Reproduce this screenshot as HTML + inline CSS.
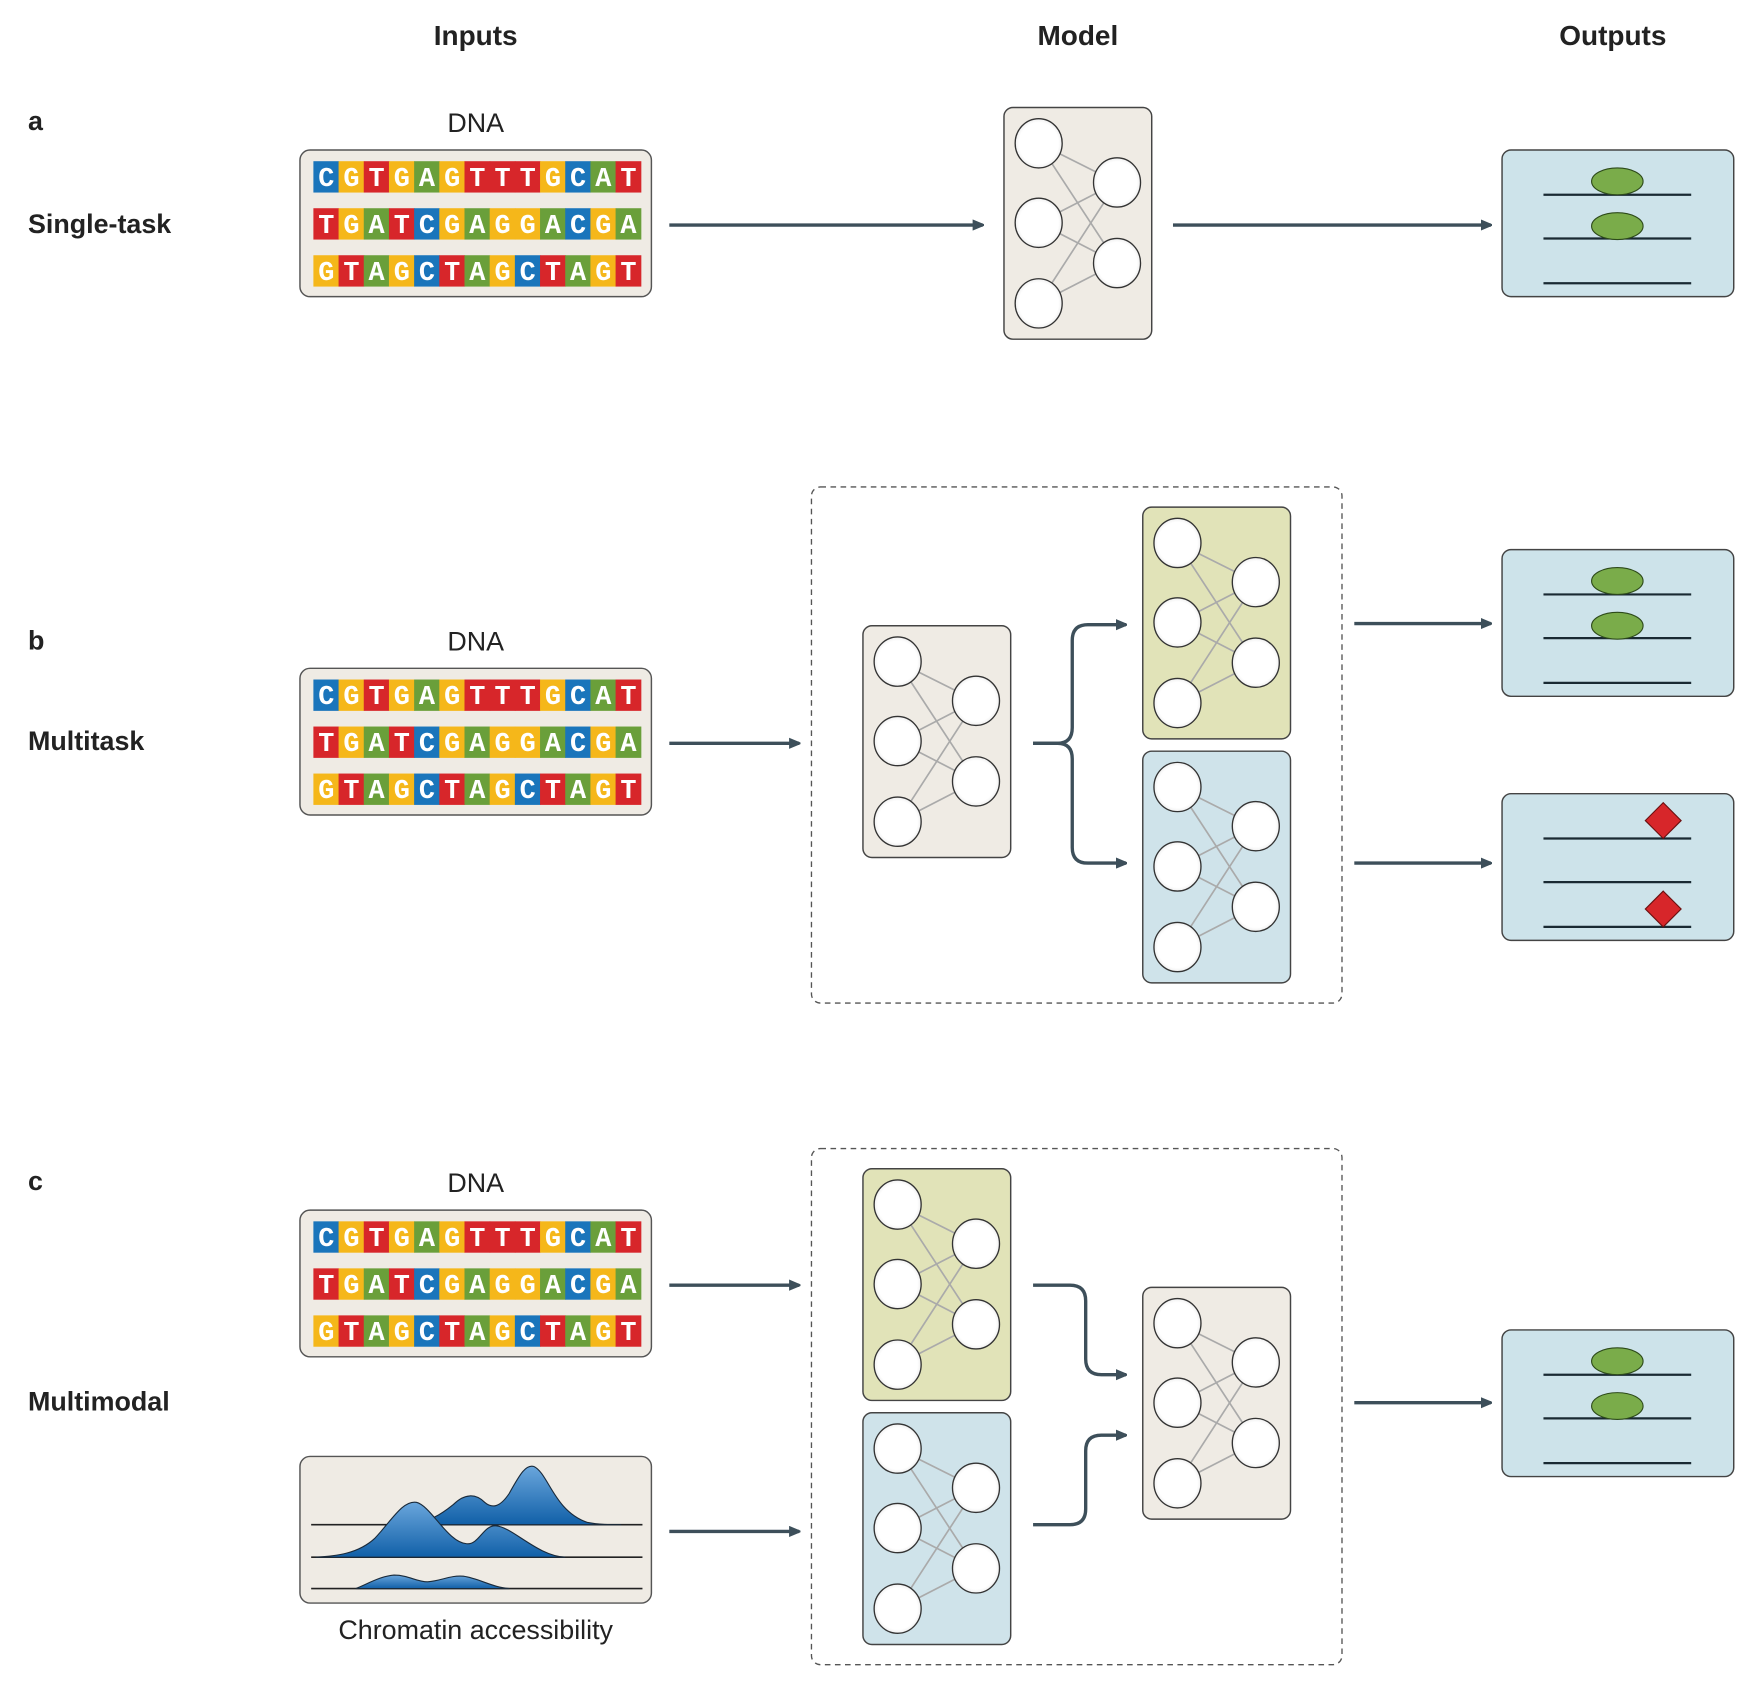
<!DOCTYPE html>
<html><head><meta charset="utf-8"><style>
html,body{margin:0;padding:0;background:#fff;}
svg{display:block;}
text{font-family:"Liberation Sans",sans-serif;}
.h{font-weight:bold;font-size:24px;fill:#222;}
.hh{font-weight:bold;font-size:25px;fill:#222;}
.lab{font-size:24px;fill:#222;}
.m{font-family:"Liberation Mono",monospace;font-size:24px;font-weight:bold;fill:#fff;}
</style></head><body>
<svg width="1755" height="1696" viewBox="0 0 1568 1515" preserveAspectRatio="none" xmlns="http://www.w3.org/2000/svg">
<defs>
<marker id="ar" markerWidth="10" markerHeight="10" refX="9" refY="5" orient="auto" markerUnits="userSpaceOnUse"><path d="M0,0 L12,5 L0,10 Z" fill="#3d4f5a"/></marker>
<linearGradient id="bg" x1="0" y1="0" x2="0" y2="1"><stop offset="0" stop-color="#6aa6dc"/><stop offset="1" stop-color="#1160a8"/></linearGradient>
<radialGradient id="ng" cx="0.5" cy="0.5" r="0.6"><stop offset="0.7" stop-color="#fff"/><stop offset="1" stop-color="#ddd"/></radialGradient>
</defs>
<text class="hh" x="425" y="40" text-anchor="middle">Inputs</text>
<text class="hh" x="963" y="40" text-anchor="middle">Model</text>
<text class="hh" x="1441" y="40" text-anchor="middle">Outputs</text>
<text class="h" x="25" y="116">a</text>
<text class="h" x="25" y="208">Single-task</text>
<text class="h" x="25" y="580">b</text>
<text class="h" x="25" y="670">Multitask</text>
<text class="h" x="25" y="1063">c</text>
<text class="h" x="25" y="1260">Multimodal</text>
<g id="all"></g>
<text class="lab" x="425" y="1464" text-anchor="middle">Chromatin accessibility</text>
<rect x="725" y="435" width="474" height="461" rx="8" fill="none" stroke="#555" stroke-dasharray="5,4" stroke-width="1.2"/>
<rect x="725" y="1026" width="474" height="461" rx="8" fill="none" stroke="#555" stroke-dasharray="5,4" stroke-width="1.2"/>
<g fill="none" stroke="#3d4f5a" stroke-width="3">
<line x1="598" y1="201" x2="878" y2="201" marker-end="url(#ar)"/>
<line x1="1048" y1="201" x2="1332" y2="201" marker-end="url(#ar)"/>
<line x1="598" y1="664" x2="714" y2="664" marker-end="url(#ar)"/>
<path d="M923,664 H945 Q958,664 958,650 V572 Q958,558 972,558 H1006" marker-end="url(#ar)"/>
<path d="M923,664 H945 Q958,664 958,678 V757 Q958,771 972,771 H1006" marker-end="url(#ar)"/>
<line x1="1210" y1="557" x2="1332" y2="557" marker-end="url(#ar)"/>
<line x1="1210" y1="771" x2="1332" y2="771" marker-end="url(#ar)"/>
<line x1="598" y1="1148" x2="714" y2="1148" marker-end="url(#ar)"/>
<line x1="598" y1="1368" x2="714" y2="1368" marker-end="url(#ar)"/>
<path d="M923,1148 H956 Q970,1148 970,1162 V1214 Q970,1228 984,1228 H1006" marker-end="url(#ar)"/>
<path d="M923,1362 H956 Q970,1362 970,1348 V1296 Q970,1282 984,1282 H1006" marker-end="url(#ar)"/>
<line x1="1210" y1="1253" x2="1332" y2="1253" marker-end="url(#ar)"/>
</g>
<rect x="268" y="1301" width="314" height="131" rx="9" fill="#efebe4" stroke="#555" stroke-width="1.3"/>
<g stroke="#222" stroke-width="1.5">
<line x1="278" y1="1362" x2="574" y2="1362"/>
<line x1="278" y1="1391" x2="574" y2="1391"/>
<line x1="278" y1="1419" x2="574" y2="1419"/>
</g>
<g fill="url(#bg)" stroke="#1a2a3a" stroke-width="1">
<path d="M360,1362 C385,1360 395,1352 405,1344 C415,1334 425,1334 433,1342 C440,1348 447,1346 455,1334 C465,1316 470,1308 477,1310 C490,1316 495,1350 525,1360 C535,1362 545,1362 555,1362 Z"/>
<path d="M282,1391 C300,1390 320,1388 335,1374 C350,1358 360,1340 372,1342 C385,1345 400,1378 417,1379 C428,1380 432,1362 443,1363 C458,1364 480,1390 505,1391 Z"/>
<path d="M318,1419 C330,1414 340,1408 352,1407 C365,1407 372,1413 382,1413 C395,1412 402,1407 414,1408 C428,1410 440,1418 455,1419 Z"/>
</g>
</svg>
<script>
const NS="http://www.w3.org/2000/svg";
const g=document.getElementById("all");
function el(t,a,p){const e=document.createElementNS(NS,t);for(const k in a)e.setAttribute(k,a[k]);(p||g).appendChild(e);return e;}
const col={C:"#1a75bb",G:"#f5b71a",T:"#d7262a",A:"#6a9f3a"};
const rows=["CGTGAGTTTGCAT","TGATCGAGGACGA","GTAGCTAGCTAGT"];
function dna(y0){
 const t=el("text",{x:425,y:y0-16,"text-anchor":"middle",class:"lab"});t.textContent="DNA";
 el("rect",{x:268,y:y0,width:314,height:131,rx:9,fill:"#efebe4",stroke:"#555","stroke-width":1.3});
 rows.forEach((r,i)=>{const cy=y0+24+i*42;
  [...r].forEach((c,j)=>{const x=280+j*22.5;
   el("rect",{x:x,y:cy-14,width:23,height:28,fill:col[c]});
   const tt=el("text",{x:x+11.5,y:cy+8,"text-anchor":"middle",class:"m"});tt.textContent=c;});});
}
dna(134);dna(597);dna(1081);
function model(x,y,fill){
 el("rect",{x:x,y:y,width:132,height:207,rx:8,fill:fill,stroke:"#444","stroke-width":1.3});
 const L=[[x+31,y+32],[x+31,y+103],[x+31,y+175]],R=[[x+101,y+67],[x+101,y+139]];
 L.forEach(a=>R.forEach(b=>el("line",{x1:a[0],y1:a[1],x2:b[0],y2:b[1],stroke:"#aaa","stroke-width":1.5})));
 [...L,...R].forEach(p=>el("ellipse",{cx:p[0],cy:p[1],rx:21,ry:22,fill:"url(#ng)",stroke:"#333","stroke-width":1.2}));
}
model(897,96,"#efebe4");
model(771,559,"#efebe4");model(1021,453,"#e1e3b8");model(1021,671,"#cfe3ea");
model(771,1044,"#e1e3b8");model(771,1262,"#cfe3ea");model(1021,1150,"#efebe4");
function out(y,kind){
 el("rect",{x:1342,y:y,width:207,height:131,rx:8,fill:"#cde3ea",stroke:"#444","stroke-width":1.3});
 [40,79,119].forEach(d=>el("line",{x1:1379,y1:y+d,x2:1511,y2:y+d,stroke:"#1a2a33","stroke-width":2}));
 if(kind=="e"){[28,68].forEach(d=>el("ellipse",{cx:1445,cy:y+d,rx:23,ry:12,fill:"#7aac4a",stroke:"#2d4a1a","stroke-width":1}));}
 else{[24,103].forEach(d=>el("path",{d:`M1486,${y+d-16} L1502,${y+d} L1486,${y+d+16} L1470,${y+d} Z`,fill:"#d7262a",stroke:"#6a1010","stroke-width":1}));}
}
out(134,"e");out(491,"e");out(709,"d");out(1188,"e");
</script>
</body></html>
